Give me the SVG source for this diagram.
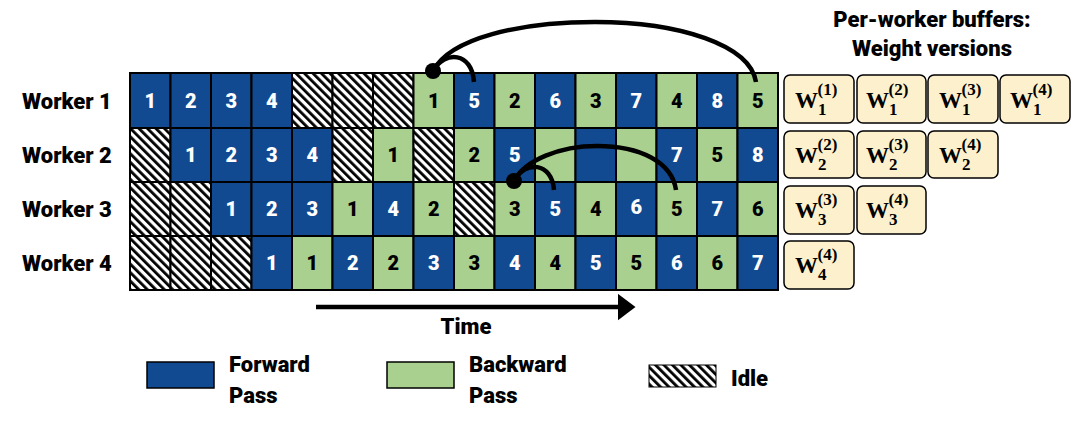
<svg xmlns="http://www.w3.org/2000/svg" width="1085" height="423" viewBox="0 0 1085 423">
<defs>
<pattern id="hatch" patternUnits="userSpaceOnUse" width="6" height="6" patternTransform="rotate(-45)">
<rect width="6" height="6" fill="#fff"/><rect width="2.8" height="6" fill="#000"/>
</pattern>
<marker id="ah" markerWidth="6" markerHeight="6" refX="1" refY="3" orient="auto" markerUnits="strokeWidth"><path d="M0,0 L4,3 L0,6 Z" fill="#000"/></marker>
<style>
.f{fill:#114a91;stroke:#000;stroke-width:2}
.b{fill:#a9d08e;stroke:#000;stroke-width:2}
.i{fill:url(#hatch);stroke:#000;stroke-width:2}
.tw{font-family:Roboto,"Liberation Sans",sans-serif;font-weight:900;font-size:20px;fill:#fff;text-anchor:middle}
.tk{font-family:Roboto,"Liberation Sans",sans-serif;font-weight:900;font-size:20px;fill:#000;text-anchor:middle}
.lab{font-family:Roboto,"Liberation Sans",sans-serif;font-weight:900;font-size:22px;fill:#000}
.buf{fill:#fdf0cc;stroke:#000;stroke-width:1.5}
.w{font-family:"Liberation Serif",serif;font-weight:700;font-size:23px;fill:#000}
.arc{fill:none;stroke:#000;stroke-width:4.5;stroke-linecap:butt}
</style>
</defs>
<rect width="1085" height="423" fill="#fff"/>
<g id="labels">
<text class="lab" x="22" y="109">Worker 1</text>
<text class="lab" x="22" y="163">Worker 2</text>
<text class="lab" x="22" y="217">Worker 3</text>
<text class="lab" x="22" y="271">Worker 4</text>
</g>
<g id="row1">
<rect class="f" x="130" y="73" width="40.5" height="55"/><text class="tw" x="150.3" y="108">1</text>
<rect class="f" x="170.5" y="73" width="40.5" height="55"/><text class="tw" x="190.8" y="108">2</text>
<rect class="f" x="211" y="73" width="40.5" height="55"/><text class="tw" x="231.3" y="108">3</text>
<rect class="f" x="251.5" y="73" width="40.5" height="55"/><text class="tw" x="271.8" y="108">4</text>
<rect class="i" x="292" y="73" width="40.5" height="55"/>
<rect class="i" x="332.5" y="73" width="40.5" height="55"/>
<rect class="i" x="373" y="73" width="40.5" height="55"/>
<rect class="b" x="413.5" y="73" width="40.5" height="55"/><text class="tk" x="433.8" y="108">1</text>
<rect class="f" x="454" y="73" width="40.5" height="55"/><text class="tw" x="474.3" y="108">5</text>
<rect class="b" x="494.5" y="73" width="40.5" height="55"/><text class="tk" x="514.8" y="108">2</text>
<rect class="f" x="535" y="73" width="40.5" height="55"/><text class="tw" x="555.3" y="108">6</text>
<rect class="b" x="575.5" y="73" width="40.5" height="55"/><text class="tk" x="595.8" y="108">3</text>
<rect class="f" x="616" y="73" width="40.5" height="55"/><text class="tw" x="636.3" y="108">7</text>
<rect class="b" x="656.5" y="73" width="40.5" height="55"/><text class="tk" x="676.8" y="108">4</text>
<rect class="f" x="697" y="73" width="40.5" height="55"/><text class="tw" x="717.3" y="108">8</text>
<rect class="b" x="737.5" y="73" width="40.5" height="55"/><text class="tk" x="757.8" y="108">5</text>
</g>
<g id="row2">
<rect class="i" x="130" y="128" width="40.5" height="54"/>
<rect class="f" x="170.5" y="128" width="40.5" height="54"/><text class="tw" x="190.8" y="162">1</text>
<rect class="f" x="211" y="128" width="40.5" height="54"/><text class="tw" x="231.3" y="162">2</text>
<rect class="f" x="251.5" y="128" width="40.5" height="54"/><text class="tw" x="271.8" y="162">3</text>
<rect class="f" x="292" y="128" width="40.5" height="54"/><text class="tw" x="312.3" y="162">4</text>
<rect class="i" x="332.5" y="128" width="40.5" height="54"/>
<rect class="b" x="373" y="128" width="40.5" height="54"/><text class="tk" x="393.3" y="162">1</text>
<rect class="i" x="413.5" y="128" width="40.5" height="54"/>
<rect class="b" x="454" y="128" width="40.5" height="54"/><text class="tk" x="474.3" y="162">2</text>
<rect class="f" x="494.5" y="128" width="40.5" height="54"/><text class="tw" x="514.8" y="162">5</text>
<rect class="b" x="535" y="128" width="40.5" height="54"/>
<rect class="f" x="575.5" y="128" width="40.5" height="54"/>
<rect class="b" x="616" y="128" width="40.5" height="54"/>
<rect class="f" x="656.5" y="128" width="40.5" height="54"/><text class="tw" x="676.8" y="162">7</text>
<rect class="b" x="697" y="128" width="40.5" height="54"/><text class="tk" x="717.3" y="162">5</text>
<rect class="f" x="737.5" y="128" width="40.5" height="54"/><text class="tw" x="757.8" y="162">8</text>
</g>
<g id="row3">
<rect class="i" x="130" y="182" width="40.5" height="54"/>
<rect class="i" x="170.5" y="182" width="40.5" height="54"/>
<rect class="f" x="211" y="182" width="40.5" height="54"/><text class="tw" x="231.3" y="216">1</text>
<rect class="f" x="251.5" y="182" width="40.5" height="54"/><text class="tw" x="271.8" y="216">2</text>
<rect class="f" x="292" y="182" width="40.5" height="54"/><text class="tw" x="312.3" y="216">3</text>
<rect class="b" x="332.5" y="182" width="40.5" height="54"/><text class="tk" x="352.8" y="216">1</text>
<rect class="f" x="373" y="182" width="40.5" height="54"/><text class="tw" x="393.3" y="216">4</text>
<rect class="b" x="413.5" y="182" width="40.5" height="54"/><text class="tk" x="433.8" y="216">2</text>
<rect class="i" x="454" y="182" width="40.5" height="54"/>
<rect class="b" x="494.5" y="182" width="40.5" height="54"/><text class="tk" x="514.8" y="216">3</text>
<rect class="f" x="535" y="182" width="40.5" height="54"/><text class="tw" x="555.3" y="216">5</text>
<rect class="b" x="575.5" y="182" width="40.5" height="54"/><text class="tk" x="595.8" y="216">4</text>
<rect class="f" x="616" y="182" width="40.5" height="54"/><text class="tw" x="636.3" y="214">6</text>
<rect class="b" x="656.5" y="182" width="40.5" height="54"/><text class="tk" x="676.8" y="216">5</text>
<rect class="f" x="697" y="182" width="40.5" height="54"/><text class="tw" x="717.3" y="216">7</text>
<rect class="b" x="737.5" y="182" width="40.5" height="54"/><text class="tk" x="757.8" y="216">6</text>
</g>
<g id="row4">
<rect class="i" x="130" y="236" width="40.5" height="54"/>
<rect class="i" x="170.5" y="236" width="40.5" height="54"/>
<rect class="i" x="211" y="236" width="40.5" height="54"/>
<rect class="f" x="251.5" y="236" width="40.5" height="54"/><text class="tw" x="271.8" y="270">1</text>
<rect class="b" x="292" y="236" width="40.5" height="54"/><text class="tk" x="312.3" y="270">1</text>
<rect class="f" x="332.5" y="236" width="40.5" height="54"/><text class="tw" x="352.8" y="270">2</text>
<rect class="b" x="373" y="236" width="40.5" height="54"/><text class="tk" x="393.3" y="270">2</text>
<rect class="f" x="413.5" y="236" width="40.5" height="54"/><text class="tw" x="433.8" y="270">3</text>
<rect class="b" x="454" y="236" width="40.5" height="54"/><text class="tk" x="474.3" y="270">3</text>
<rect class="f" x="494.5" y="236" width="40.5" height="54"/><text class="tw" x="514.8" y="270">4</text>
<rect class="b" x="535" y="236" width="40.5" height="54"/><text class="tk" x="555.3" y="270">4</text>
<rect class="f" x="575.5" y="236" width="40.5" height="54"/><text class="tw" x="595.8" y="270">5</text>
<rect class="b" x="616" y="236" width="40.5" height="54"/><text class="tk" x="636.3" y="270">5</text>
<rect class="f" x="656.5" y="236" width="40.5" height="54"/><text class="tw" x="676.8" y="270">6</text>
<rect class="b" x="697" y="236" width="40.5" height="54"/><text class="tk" x="717.3" y="270">6</text>
<rect class="f" x="737.5" y="236" width="40.5" height="54"/><text class="tw" x="757.8" y="270">7</text>
</g>
<g id="connectors">
<path class="arc" d="M433,71 C445,50 472,52 474,82"/>
<path class="arc" d="M433,71 C450,38 520,22 595,22 C680,22 750,45 756,82"/>
<circle cx="433" cy="71" r="8" fill="#000"/>
<path class="arc" d="M514,181 C525,160 552,162 554,190"/>
<path class="arc" d="M514,181 C525,160 560,146 597,146 C640,146 672,162 676,190"/>
<circle cx="514" cy="181" r="8" fill="#000"/>
<line x1="316" y1="307" x2="622" y2="307" stroke="#000" stroke-width="4.5" marker-end="url(#ah)"/>
</g>
<text class="lab" x="466" y="334" text-anchor="middle" font-size="20">Time</text>
<g id="legend">
<rect class="f" x="147" y="362" width="67" height="26" style="stroke-width:1.5"/>
<text class="lab" x="229" y="372">Forward</text><text class="lab" x="229" y="403">Pass</text>
<rect class="b" x="387" y="362" width="67" height="26" style="stroke-width:1.5"/>
<text class="lab" x="469" y="372">Backward</text><text class="lab" x="469" y="403">Pass</text>
<rect class="i" x="649" y="365" width="67" height="22" style="stroke-width:1"/>
<text class="lab" x="731" y="386">Idle</text>
</g>
<g id="buffers">
<text class="lab" x="932" y="27" text-anchor="middle">Per-worker buffers:</text>
<text class="lab" x="932" y="56" text-anchor="middle">Weight versions</text>
<g id="w11"><rect class="buf" x="784" y="75" width="70" height="48" rx="6"/><text class="w" x="795" y="108">W<tspan font-size="17" dy="7">1</tspan><tspan font-size="17" dx="-9" dy="-20">(1)</tspan></text></g>
<g id="w12"><rect class="buf" x="857" y="75" width="69" height="48" rx="6"/><text class="w" x="866" y="108">W<tspan font-size="17" dy="7">1</tspan><tspan font-size="17" dx="-9" dy="-20">(2)</tspan></text></g>
<g id="w13"><rect class="buf" x="928" y="75" width="70" height="48" rx="6"/><text class="w" x="939" y="108">W<tspan font-size="17" dy="7">1</tspan><tspan font-size="17" dx="-9" dy="-20">(3)</tspan></text></g>
<g id="w14"><rect class="buf" x="1000" y="75" width="70" height="48" rx="6"/><text class="w" x="1010" y="108">W<tspan font-size="17" dy="7">1</tspan><tspan font-size="17" dx="-9" dy="-20">(4)</tspan></text></g>
<g id="w22"><rect class="buf" x="784" y="131" width="70" height="47" rx="6"/><text class="w" x="795" y="163">W<tspan font-size="17" dy="7">2</tspan><tspan font-size="17" dx="-9" dy="-20">(2)</tspan></text></g>
<g id="w23"><rect class="buf" x="857" y="131" width="69" height="47" rx="6"/><text class="w" x="866" y="163">W<tspan font-size="17" dy="7">2</tspan><tspan font-size="17" dx="-9" dy="-20">(3)</tspan></text></g>
<g id="w24"><rect class="buf" x="928" y="131" width="70" height="47" rx="6"/><text class="w" x="939" y="163">W<tspan font-size="17" dy="7">2</tspan><tspan font-size="17" dx="-9" dy="-20">(4)</tspan></text></g>
<g id="w33"><rect class="buf" x="784" y="186" width="70" height="48" rx="6"/><text class="w" x="795" y="218">W<tspan font-size="17" dy="7">3</tspan><tspan font-size="17" dx="-9" dy="-20">(3)</tspan></text></g>
<g id="w34"><rect class="buf" x="857" y="186" width="69" height="48" rx="6"/><text class="w" x="866" y="218">W<tspan font-size="17" dy="7">3</tspan><tspan font-size="17" dx="-9" dy="-20">(4)</tspan></text></g>
<g id="w44"><rect class="buf" x="784" y="241" width="70" height="48" rx="6"/><text class="w" x="795" y="273">W<tspan font-size="17" dy="7">4</tspan><tspan font-size="17" dx="-9" dy="-20">(4)</tspan></text></g>
</g>
</svg>
